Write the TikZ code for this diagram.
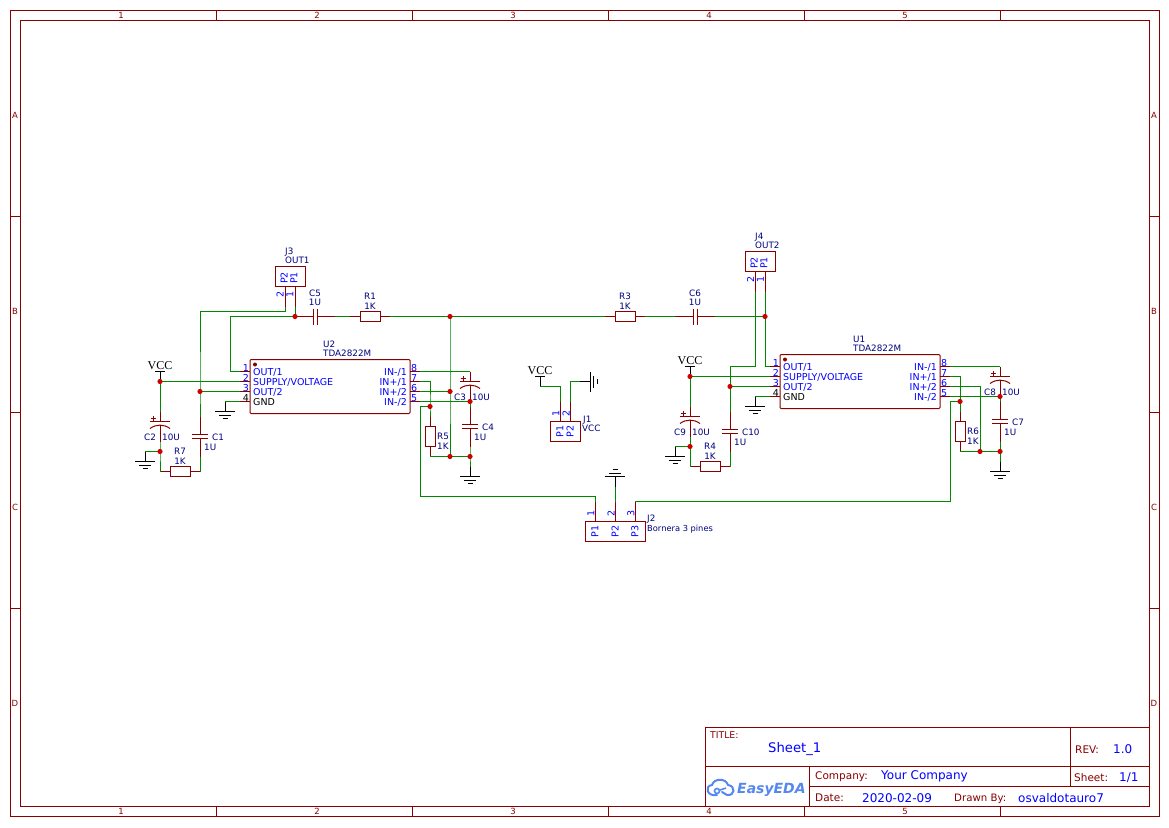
\documentclass[tikz,border=0pt]{standalone}
\usepackage{fontspec}
\setmainfont{DejaVu Sans}
\newfontfamily\vccfont{Liberation Serif}
\definecolor{sheetred}{HTML}{880000}
\definecolor{wiregreen}{HTML}{008800}
\definecolor{pinblue}{HTML}{0000FF}
\definecolor{annblue}{HTML}{000080}
\definecolor{dotred}{HTML}{CC0000}
\definecolor{logoblue}{HTML}{5588EE}
\tikzset{
  frame/.style={color=sheetred,line width=1pt},
  wire/.style={color=wiregreen,line width=1pt},
  pin/.style={color=sheetred,line width=1pt},
  supply/.style={color=black,line width=1pt},
  part/.style={draw=sheetred,line width=1pt,rectangle,inner sep=0pt,outer sep=0pt},
  ann/.style={color=annblue,inner sep=0pt,font=\fontsize{8.8}{10}\selectfont},
  pintxt/.style={color=pinblue,inner sep=0pt,font=\fontsize{9.5}{10}\selectfont},
  vcctxt/.style={color=black,inner sep=0pt,font=\vccfont\fontsize{12}{12}\selectfont},
  ticktxt/.style={color=sheetred,inner sep=0pt,font=\fontsize{8.5}{10}\selectfont},
  redtxt/.style={color=sheetred,inner sep=0pt,anchor=west,font=\fontsize{10.5}{12}\selectfont},
  bluetxt/.style={color=pinblue,inner sep=0pt,anchor=west,font=\fontsize{12}{12}\selectfont}
}
\begin{document}
\begin{tikzpicture}[x=1pt,y=-1pt]
\useasboundingbox (0,0) rectangle (1169,827);

%sheet frame, ticks and letters
\draw[frame] (10,10.5) rectangle (1159,816.5);
\draw[frame] (20,20.5) rectangle (1149,806.5);
\foreach \x in {216,412,608,804,1000} \draw[frame] (\x,10.5) -- (\x,20.5) (\x,806.5) -- (\x,816.5);
\foreach \y in {216.5,412.5,608.5} \draw[frame] (10,\y) -- (20,\y) (1149,\y) -- (1159,\y);
\foreach \n/\x in {1/121,2/317,3/513,4/709,5/905} {
  \node[ticktxt] (top\n) at (\x,15.5) {\n};
  \node[ticktxt] (bot\n) at (\x,811.5) {\n};
}
\foreach \n/\y in {A/115,B/311,C/507,D/703} {
  \node[ticktxt] (left\n) at (15,\y) {\n};
  \node[ticktxt] (right\n) at (1154,\y) {\n};
}

%title block
\draw[frame] (705,806.5) -- (705,727.5) -- (1149,727.5);
\draw[frame] (705,766.5) -- (1149,766.5);
\draw[frame] (809,786.5) -- (1149,786.5);
\draw[frame] (809,766.5) -- (809,806.5);
\draw[frame] (1070,727.5) -- (1070,786.5);
\node[redtxt,font=\fontsize{9.3}{10}\selectfont] (titlelbl) at (710,735.5) {TITLE:};
\node[bluetxt,font=\fontsize{13.2}{14}\selectfont] (titleval) at (768,749) {Sheet\_1};
\node[redtxt] (revlbl) at (1075,749.5) {REV:};
\node[bluetxt] (revval) at (1113,749) {1.0};
\node[redtxt] (companylbl) at (815,776.5) {Company:};
\node[bluetxt] (companyval) at (881,776.5) {Your Company};
\node[redtxt] (sheetlbl) at (1074,778) {Sheet:};
\node[bluetxt] (sheetval) at (1119,777.5) {1/1};
\node[redtxt] (datelbl) at (815,798) {Date:};
\node[bluetxt] (dateval) at (862,798) {2020-02-09};
\node[redtxt,font=\fontsize{10.2}{12}\selectfont] (drawnlbl) at (954,798.5) {Drawn By:};
\node[bluetxt] (drawnval) at (1018,798) {osvaldotauro7};

%logo
\draw[color=logoblue,line width=2pt,line cap=round] (717,795) .. controls (707,797) and (704,786) .. (712,785)
  .. controls (714,778) and (726,778) .. (728,785) .. controls (736,786) and (735,796) .. (727,795) -- (722,792);
\draw[color=logoblue,line width=1.6pt] (717,791) circle (2.5);
\draw[color=logoblue,line width=1.6pt] (720,790) -- (726,788);
\node[color=logoblue,inner sep=0pt,anchor=west,font=\fontsize{14}{14}\selectfont\bfseries\itshape] (logotxt) at (737,790) {EasyEDA};

%ICs
\node[part,rounded corners=1pt,minimum width=160pt,minimum height=54pt] (U2) at (330,386.5) {};
\node[part,rounded corners=1pt,minimum width=160pt,minimum height=54pt] (U1) at (860,381.5) {};
\fill[color=sheetred] (255,364.5) circle (2);
\fill[color=sheetred] (785,359.5) circle (2);
\node[ann,anchor=west] (U2ref) at (323,344) {U2};
\node[ann,anchor=west] (U2val) at (323,353) {TDA2822M};
\node[ann,anchor=west] (U1ref) at (853,339) {U1};
\node[ann,anchor=west] (U1val) at (853,348) {TDA2822M};

%pin coordinates of the ICs
\coordinate (U2p1) at (240,371.5); \coordinate (U2p2) at (240,381.5);
\coordinate (U2p3) at (240,391.5); \coordinate (U2p4) at (240,401.5);
\coordinate (U2p8) at (420,371.5); \coordinate (U2p7) at (420,381.5);
\coordinate (U2p6) at (420,391.5); \coordinate (U2p5) at (420,401.5);
\coordinate (U1p1) at (770,366.5); \coordinate (U1p2) at (770,376.5);
\coordinate (U1p3) at (770,386.5); \coordinate (U1p4) at (770,396.5);
\coordinate (U1p8) at (950,366.5); \coordinate (U1p7) at (950,376.5);
\coordinate (U1p6) at (950,386.5); \coordinate (U1p5) at (950,396.5);

\foreach \u/\dx/\dy in {U2/0/0,U1/530/-5} {
  \foreach \n/\y/\t in {1/372.3/{OUT/1},2/382.3/{SUPPLY/VOLTAGE},3/392.3/{OUT/2}} {
    \node[pintxt,anchor=east] (\u n\n) at (249+\dx,\y-4.5+\dy) {\n};
    \node[pintxt,anchor=west] (\u t\n) at (253+\dx,\y+\dy) {\t};
  }
  \node[pintxt,color=black,anchor=east] (\u n4) at (249+\dx,397.8+\dy) {4};
  \node[pintxt,color=black,anchor=west] (\u t4) at (253+\dx,402.3+\dy) {GND};
  \foreach \n/\y/\t in {8/372.3/{IN-/1},7/382.3/{IN+/1},6/392.3/{IN+/2},5/402.3/{IN-/2}} {
    \node[pintxt,anchor=west] (\u n\n) at (411+\dx,\y-4.5+\dy) {\n};
    \node[pintxt,anchor=east] (\u t\n) at (407+\dx,\y+\dy) {\t};
  }
}
\draw[pin] (U2p1) -- ++(10,0) (U2p2) -- ++(10,0) (U2p3) -- ++(10,0) (U2p4) -- ++(10,0);
\draw[pin] (U2p8) -- ++(-10,0) (U2p7) -- ++(-10,0) (U2p6) -- ++(-10,0) (U2p5) -- ++(-10,0);
\draw[pin] (U1p1) -- ++(10,0) (U1p2) -- ++(10,0) (U1p3) -- ++(10,0) (U1p4) -- ++(10,0);
\draw[pin] (U1p8) -- ++(-10,0) (U1p7) -- ++(-10,0) (U1p6) -- ++(-10,0) (U1p5) -- ++(-10,0);

%connectors
\node[part,minimum width=30pt,minimum height=20pt] (J3) at (290,276.5) {};
\node[part,minimum width=30pt,minimum height=20pt] (J4) at (760,261.5) {};
\node[part,minimum width=30pt,minimum height=20pt] (J1) at (565,431.5) {};
\node[part,minimum width=60pt,minimum height=20pt] (J2) at (615,531.5) {};
\coordinate (J3p2) at (285,306.5); \coordinate (J3p1) at (295,306.5);
\coordinate (J4p2) at (755,291.5); \coordinate (J4p1) at (765,291.5);
\coordinate (J1p1) at (560,401.5); \coordinate (J1p2) at (570,401.5);
\coordinate (J2p1) at (595,501.5); \coordinate (J2p2) at (615,501.5); \coordinate (J2p3) at (635,501.5);
\draw[pin] (J3p2) -- ++(0,-20) (J3p1) -- ++(0,-20) (J4p2) -- ++(0,-20) (J4p1) -- ++(0,-20);
\draw[pin] (J1p1) -- ++(0,20) (J1p2) -- ++(0,20) (J2p1) -- ++(0,20) (J2p2) -- ++(0,20) (J2p3) -- ++(0,20);
\foreach \j/\x/\y/\p in {J3a/284/278/P2,J3b/294/278/P1,J4a/754/263/P2,J4b/764/263/P1,
    J1a/560/431.5/P1,J1b/570/431.5/P2,J2a/595/531.5/P1,J2b/615/531.5/P2,J2c/635/531.5/P3} {
  \node[pintxt,rotate=90] (\j t) at (\x,\y) {\p};
}
\node[pintxt,rotate=90] (J3n2) at (280,294) {2};
\node[pintxt,rotate=90] (J3n1) at (290,294) {1};
\node[pintxt,rotate=90] (J4n2) at (750.5,279) {2};
\node[pintxt,rotate=90] (J4n1) at (760.5,279) {1};
\node[pintxt,rotate=90] (J1n1) at (556,413) {1};
\node[pintxt,rotate=90] (J1n2) at (566,413) {2};
\node[pintxt,rotate=90] (J2n1) at (591,513) {1};
\node[pintxt,rotate=90] (J2n2) at (611,513) {2};
\node[pintxt,rotate=90] (J2n3) at (631,513) {3};
\node[ann,anchor=west] (J3ref) at (285,252) {J3};
\node[ann,anchor=west] (J3val) at (285,260) {OUT1};
\node[ann,anchor=west] (J4ref) at (755,237) {J4};
\node[ann,anchor=west] (J4val) at (755,245) {OUT2};
\node[ann,anchor=west] (J1ref) at (583,420.5) {J1};
\node[ann,anchor=west] (J1val) at (582,428.5) {VCC};
\node[ann,anchor=west] (J2ref) at (647,519.5) {J2};
\node[ann,anchor=west,font=\fontsize{8.3}{10}\selectfont] (J2val) at (647,529) {Bornera 3 pines};

%resistors, a is the first pin, b the second
\foreach \r/\x/\y in {R1/370/316.5,R3/625/316.5,R7/180/471.5,R4/710/466.5} {
  \node[part,minimum width=20pt,minimum height=10pt] (\r) at (\x,\y) {};
  \coordinate (\r a) at (\x-20,\y);
  \coordinate (\r b) at (\x+20,\y);
  \draw[pin] (\r a) -- (\r) (\r) -- (\r b);
}
\foreach \r/\x/\y in {R5/430/436.5,R6/960/431.5} {
  \node[part,minimum width=10pt,minimum height=20pt] (\r) at (\x,\y) {};
  \coordinate (\r a) at (\x,\y-20);
  \coordinate (\r b) at (\x,\y+20);
  \draw[pin] (\r a) -- (\r) (\r) -- (\r b);
}
\node[ann] (R1ref) at (370,296.5) {R1};
\node[ann] (R1val) at (370,306.5) {1K};
\node[ann] (R3ref) at (625,296.5) {R3};
\node[ann] (R3val) at (625,306.5) {1K};
\node[ann] (R7ref) at (180,451) {R7};
\node[ann] (R7val) at (180,461) {1K};
\node[ann] (R4ref) at (710,446) {R4};
\node[ann] (R4val) at (710,456) {1K};
\node[ann,anchor=west] (R5ref) at (437,436) {R5};
\node[ann,anchor=west] (R5val) at (437,446) {1K};
\node[ann,anchor=west] (R6ref) at (967,431) {R6};
\node[ann,anchor=west] (R6val) at (967,441) {1K};

%plain capacitors
\foreach \c/\x/\y in {C1/200/436.5,C4/470/426.5,C7/1000/421.5,C10/730/431.5} {
  \coordinate (\c a) at (\x,\y-20);
  \coordinate (\c b) at (\x,\y+20);
  \draw[pin] (\c a) -- (\x,\y-2) (\x-8,\y-2) -- (\x+8,\y-2) (\x-8,\y+2) -- (\x+8,\y+2) (\x,\y+2) -- (\c b);
}
\foreach \c/\x/\y in {C5/315/316.5,C6/695/316.5} {
  \coordinate (\c a) at (\x-20,\y);
  \coordinate (\c b) at (\x+20,\y);
  \draw[pin] (\c a) -- (\x-2,\y) (\x-2,\y-8) -- (\x-2,\y+8) (\x+2,\y-8) -- (\x+2,\y+8) (\x+2,\y) -- (\c b);
}
\node[ann] (C5ref) at (315,293) {C5};
\node[ann] (C5val) at (315,302) {1U};
\node[ann] (C6ref) at (695,293) {C6};
\node[ann] (C6val) at (695,302) {1U};
\node[ann,anchor=west] (C1ref) at (212,437) {C1};
\node[ann,anchor=west] (C1val) at (204,447) {1U};
\node[ann,anchor=west] (C4ref) at (482,427) {C4};
\node[ann,anchor=west] (C4val) at (474,437) {1U};
\node[ann,anchor=west] (C7ref) at (1012,422) {C7};
\node[ann,anchor=west] (C7val) at (1004,432) {1U};
\node[ann,anchor=west] (C10ref) at (742,432) {C10};
\node[ann,anchor=west] (C10val) at (734,442) {1U};

%polarized capacitors, a is the + pin
\foreach \c/\x/\y in {C2/160/411.5,C3/470/371.5,C8/1000/366.5,C9/690/406.5} {
  \coordinate (\c a) at (\x,\y);
  \coordinate (\c b) at (\x,\y+30);
  \draw[pin] (\c a) -- (\x,\y+10) (\x-10,\y+10) -- (\x+10,\y+10);
  \draw[pin] (\x-10,\y+17) .. controls (\x-4,\y+12.5) and (\x+4,\y+12.5) .. (\x+10,\y+17);
  \draw[pin] (\x,\y+13.5) -- (\c b);
  \draw[pin] (\x-9.5,\y+7) -- (\x-4.5,\y+7) (\x-7,\y+4.5) -- (\x-7,\y+9.5);
}
\node[ann,anchor=west] (C2ref) at (144,437) {C2};
\node[ann,anchor=west] (C2val) at (162,437) {10U};
\node[ann,anchor=west] (C3ref) at (454,397) {C3};
\node[ann,anchor=west] (C3val) at (472,397) {10U};
\node[ann,anchor=west] (C8ref) at (984,392) {C8};
\node[ann,anchor=west] (C8val) at (1002,392) {10U};
\node[ann,anchor=west] (C9ref) at (674,432) {C9};
\node[ann,anchor=west] (C9val) at (692,432) {10U};

%junctions
\coordinate (jA) at (295,316.5); \coordinate (jB) at (450,316.5); \coordinate (jC) at (765,316.5);
\coordinate (jD) at (160,381.5); \coordinate (jE) at (200,391.5); \coordinate (jF) at (160,451.5);
\coordinate (jG) at (450,391.5); \coordinate (jH) at (470,401.5); \coordinate (jI) at (430,406.5);
\coordinate (jJ) at (450,456.5); \coordinate (jK) at (470,456.5);
\coordinate (jL) at (690,376.5); \coordinate (jM) at (730,386.5); \coordinate (jN) at (690,446.5);
\coordinate (jO) at (1000,396.5); \coordinate (jP) at (960,401.5); \coordinate (jQ) at (980,451.5);
\coordinate (jR) at (1000,451.5);

%power symbols
\coordinate (vccA) at (160,371.5); \coordinate (vccB) at (690,366.5); \coordinate (vccC) at (540,376.5);
\coordinate (gndA) at (145,461.5); \coordinate (gndB) at (225,411.5); \coordinate (gndC) at (470,476.5);
\coordinate (gndD) at (675,456.5); \coordinate (gndE) at (755,406.5); \coordinate (gndF) at (1000,471.5);
\coordinate (gndG) at (615,476.5); \coordinate (gndH) at (590,381.5);
\foreach \v in {vccA,vccB,vccC} \draw[supply] (\v) ++(-5,0) -- ++(10,0) (\v) -- ++(0,10);
\node[vcctxt] (vccAt) at (160,366) {VCC};
\node[vcctxt] (vccBt) at (690,361) {VCC};
\node[vcctxt] (vccCt) at (540,371) {VCC};
\foreach \g in {gndA,gndB,gndC,gndD,gndE,gndF} {
  \draw[supply] (\g) -- ++(0,-10);
  \draw[supply] (\g) ++(-10,0) -- ++(20,0) (\g) ++(-6,3.5) -- ++(12,0) (\g) ++(-2.5,7) -- ++(5,0);
}
\draw[supply] (gndG) -- ++(0,10);
\draw[supply] (gndG) ++(-10,0) -- ++(20,0) (gndG) ++(-6,-3.5) -- ++(12,0) (gndG) ++(-2.5,-7) -- ++(5,0);
\draw[supply] (gndH) -- ++(-10,0);
\draw[supply] (gndH) ++(0,-10) -- ++(0,20) (gndH) ++(3.5,-6) -- ++(0,12) (gndH) ++(7,-2.5) -- ++(0,5);

%wires of the left IC
\draw[wire] (J3p2) -- (285,311.5) -- (200,311.5) -- (jE) -- (C1a);
\draw[wire] (jE) -- (U2p3);
\draw[wire] (C1b) -- (R7b);
\draw[wire] (J3p1) -- (jA) -- (230,316.5) -- (230,371.5) -- (U2p1);
\draw[wire] (jA) -- (C5a);
\draw[wire] (C5b) -- (R1a);
\draw[wire] (R1b) -- (jB) -- (R3a);
\draw[wire] (R3b) -- (C6a);
\draw[wire] (C6b) -- (jC);
\draw[wire] (vccA) ++(0,10) -- (jD) -- (U2p2);
\draw[wire] (jD) -- (C2a);
\draw[wire] (C2b) -- (jF) -- (R7a);
\draw[wire] (jF) -- (145,451.5);
\draw[wire] (U2p4) -- (225,401.5);
\draw[wire] (U2p8) -- (470,371.5);
\draw[wire] (U2p7) -- (430,381.5) -- (jI) -- (R5a);
\draw[wire] (U2p6) -- (jG);
\draw[wire] (jB) -- (jG) -- (jJ);
\draw[wire] (U2p5) -- (jH);
\draw[wire] (C3b) -- (jH) -- (C4a);
\draw[wire] (R5b) -- (jJ) -- (jK);
\draw[wire] (C4b) -- (jK) -- (470,466.5);
\draw[wire] (jI) -- (420,406.5) -- (420,496.5) -- (595,496.5) -- (J2p1);
\draw[wire] (J2p2) -- (615,486.5);
\draw[wire] (J2p3) -- (950,501.5) -- (950,401.5) -- (jP);

%wires of the middle connector
\draw[wire] (540,386.5) -- (560,386.5) -- (J1p1);
\draw[wire] (J1p2) -- (570,381.5) -- (580,381.5);

%wires of the right IC
\draw[wire] (J4p2) -- (755,366.5) -- (730,366.5) -- (jM) -- (C10a);
\draw[wire] (jM) -- (U1p3);
\draw[wire] (C10b) -- (R4b);
\draw[wire] (J4p1) -- (jC) -- (765,366.5) -- (U1p1);
\draw[wire] (vccB) ++(0,10) -- (jL) -- (U1p2);
\draw[wire] (jL) -- (C9a);
\draw[wire] (C9b) -- (jN) -- (R4a);
\draw[wire] (jN) -- (675,446.5);
\draw[wire] (U1p4) -- (755,396.5);
\draw[wire] (U1p8) -- (1000,366.5);
\draw[wire] (U1p7) -- (960,376.5) -- (jP) -- (R6a);
\draw[wire] (U1p6) -- (980,386.5) -- (jQ);
\draw[wire] (U1p5) -- (jO);
\draw[wire] (C8b) -- (jO) -- (C7a);
\draw[wire] (R6b) -- (jQ) -- (jR);
\draw[wire] (C7b) -- (jR) -- (1000,461.5);

%junction dots
\foreach \d in {jA,jB,jC,jD,jE,jF,jG,jH,jI,jJ,jK,jL,jM,jN,jO,jP,jQ,jR} \fill[color=dotred] (\d) circle (2.6);

\end{tikzpicture}
\end{document}
